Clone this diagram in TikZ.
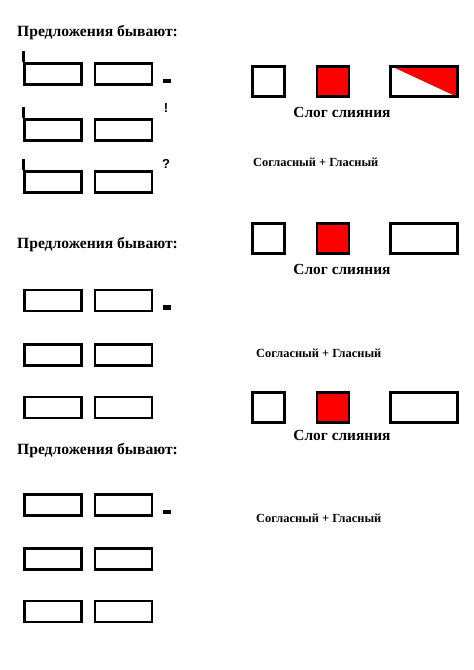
\documentclass[tikz,border=0pt]{standalone}
\usepackage{fontspec}
\setmainfont{Liberation Serif}
\newfontfamily\punctfont{Liberation Sans}
\begin{document}
\begin{tikzpicture}[x=1pt,y=-1pt,
  wbox/.style={draw=black,line width=2.2pt,minimum width=57pt,minimum height=21pt,inner sep=0pt},
  sq/.style={draw=black,line width=2.2pt,minimum width=32pt,minimum height=30pt,inner sep=0pt},
  lrect/.style={draw=black,line width=2.2pt,minimum width=67pt,minimum height=30pt,inner sep=0pt},
  title/.style={font=\bfseries\fontsize{15.6}{17}\selectfont,anchor=west,inner sep=0pt},
  slog/.style={font=\bfseries\fontsize{15.4}{17}\selectfont,inner sep=0pt},
  sg/.style={font=\bfseries\fontsize{12.4}{14}\selectfont,anchor=west,inner sep=0pt},
  dashmark/.style={fill=black,minimum width=8pt,minimum height=4.5pt,inner sep=0pt},
  punct/.style={font=\punctfont\bfseries\fontsize{13}{15}\selectfont,inner sep=0pt},
  tick/.style={line width=2.2pt}]
\useasboundingbox (0,0) rectangle (474,670);
% ---------- section 1 ----------
\node[title] (t1) at (17,33) {Предложения бывают:};
\node[wbox] (a1) at (53,74) {};
\node[wbox] (a2) at (123.5,74) {};
\node[dashmark] (d1) at (167,81) {};
\draw[tick] (a1.north west) -- ++(0,-11);
\node[wbox] (b1) at (53,130) {};
\node[wbox] (b2) at (123.5,130) {};
\node[punct] (p1) at (166,108) {!};
\draw[tick] (b1.north west) -- ++(0,-11);
\node[wbox] (c1) at (53,182) {};
\node[wbox] (c2) at (123.5,182) {};
\node[punct] (p2) at (166,164) {?};
\draw[tick] (c1.north west) -- ++(0,-11);
% right 1
\node[sq] (s11) at (268.5,81.5) {};
\node[sq,fill=red] (s12) at (333,81.5) {};
\node[lrect] (s13) at (424,81.5) {};
\fill[red] (s13.north west) -- (s13.north east) -- (s13.south east) -- cycle;
\node[lrect] at (424,81.5) {};
\node[slog] (l1) at (342,112) {Слог слияния};
\node[sg] (g1) at (253,162) {Согласный + Гласный};
% ---------- section 2 ----------
\node[title] (t2) at (17,245) {Предложения бывают:};
\node[wbox] (e1) at (53,300.5) {};
\node[wbox] (e2) at (123.5,300.5) {};
\node[dashmark] (d2) at (167,307.5) {};
\node[wbox] (f1) at (53,355) {};
\node[wbox] (f2) at (123.5,355) {};
\node[wbox] (h1) at (53,407.5) {};
\node[wbox] (h2) at (123.5,407.5) {};
% right 2
\node[sq] (s21) at (268.5,238.5) {};
\node[sq,fill=red] (s22) at (333,238.5) {};
\node[lrect] (s23) at (424,238.5) {};
\node[slog] (l2) at (342,269) {Слог слияния};
\node[sg] (g2) at (256,353) {Согласный + Гласный};
% ---------- section 3 ----------
\node[title] (t3) at (17,451) {Предложения бывают:};
\node[wbox] (i1) at (53,505) {};
\node[wbox] (i2) at (123.5,505) {};
\node[dashmark] (d3) at (167,512) {};
\node[wbox] (j1) at (53,559) {};
\node[wbox] (j2) at (123.5,559) {};
\node[wbox] (k1) at (53,611.5) {};
\node[wbox] (k2) at (123.5,611.5) {};
% right 3
\node[sq] (s31) at (268.5,407.5) {};
\node[sq,fill=red] (s32) at (333,407.5) {};
\node[lrect] (s33) at (424,407.5) {};
\node[slog] (l3) at (342,435) {Слог слияния};
\node[sg] (g3) at (256,518) {Согласный + Гласный};
\end{tikzpicture}
\end{document}
